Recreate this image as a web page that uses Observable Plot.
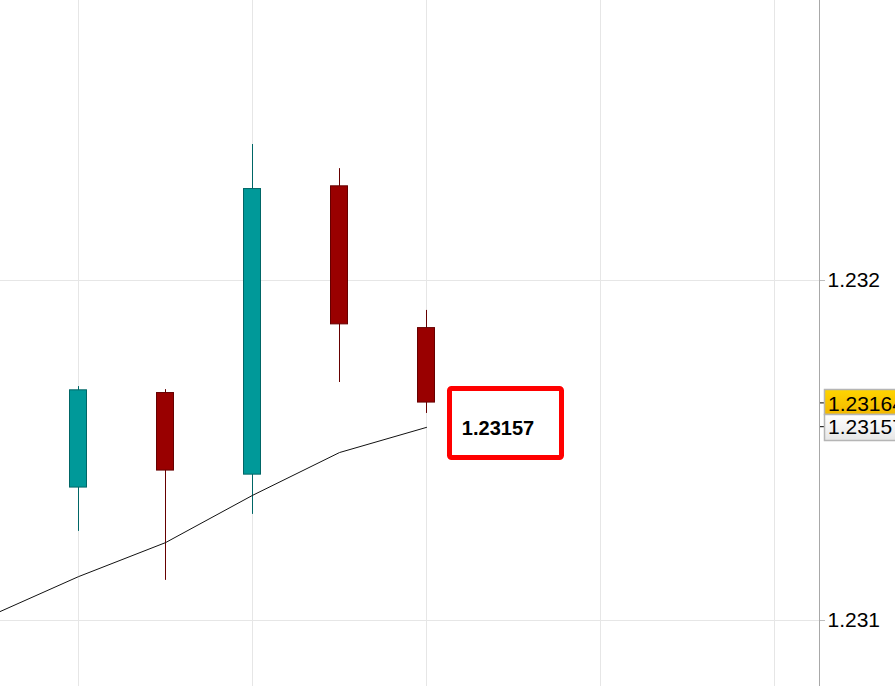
<!DOCTYPE html>
<html><head><meta charset="utf-8">
<script src="https://cdn.jsdelivr.net/npm/d3@7"></script>
<script src="https://cdn.jsdelivr.net/npm/@observablehq/plot@0.6"></script>
<style>html,body{margin:0;padding:0;background:#fff;overflow:hidden}svg{display:block}</style>
</head><body><div id="chart"></div>
<script>
const index = [0, 1, 2, 3, 4];
const highs = [1.231688, 1.231679, 1.232400, 1.232329, 1.231912];
const lows = [1.231262, 1.231118, 1.231312, 1.231700, 1.231609];
const bodyTops = [1.231677, 1.231669, 1.232269, 1.232277, 1.231860];
const bodyBottoms = [1.231391, 1.231441, 1.231429, 1.231871, 1.231641];
const direction = ["up", "down", "up", "down", "down"];
const lineIndex = [-1, 0, 1, 2, 3, 4];
const lineValues = [1.231015, 1.231129, 1.231229, 1.231368, 1.231494, 1.231568];
const yTicks = [1.231, 1.232];
const xGrid = [0, 2, 4, 6, 8];
const lastPrices = [1.23164, 1.23157];
const noteText = "1.23157";

const candles = index.map((i, k) => ({i, high: highs[k], low: lows[k], top: bodyTops[k], bottom: bodyBottoms[k], dir: direction[k]}));
const line = lineIndex.map((i, k) => ({i, v: lineValues[k]}));
const pxX = p => (p - 78) / 87;
const pxY = p => 1.232 - (p - 280) / 340000;
const fillOf = d => d.dir === "up" ? "#009999" : "#990000";
const edgeOf = d => d.dir === "up" ? "#006666" : "#660000";
const font = "Arial, 'Liberation Sans', sans-serif";

const defs = () => {
  const s = d3.create("svg:defs");
  const add = (id, a, b) => {
    const g = s.append("linearGradient").attr("id", id).attr("x1", 0).attr("y1", 0).attr("x2", 0).attr("y2", 1);
    g.append("stop").attr("offset", "0%").attr("stop-color", a);
    g.append("stop").attr("offset", "100%").attr("stop-color", b);
  };
  add("tagGold", "#ffd500", "#f2b800");
  add("tagGray", "#ffffff", "#e6e6e6");
  return s.node();
};

const tags = [
  {v: lastPrices[0], top: pxY(389.5), bottom: pxY(414.5), fill: "url(#tagGold)"},
  {v: lastPrices[1], top: pxY(414.5), bottom: pxY(440.5), fill: "url(#tagGray)"}
];

const chart = Plot.plot({
  width: 895, height: 686,
  marginTop: 0, marginBottom: 0, marginLeft: 0, marginRight: 76,
  style: {fontFamily: font, background: "#fff"},
  x: {type: "linear", domain: [pxX(0), pxX(819)], range: [0, 819], axis: null},
  y: {type: "linear", domain: [pxY(686), pxY(0)], range: [686, 0], axis: null},
  marks: [
    defs,
    Plot.ruleX(xGrid, {stroke: "#e6e6e6", strokeWidth: 1}),
    Plot.ruleY(yTicks, {x1: pxX(0), x2: pxX(819), stroke: "#e6e6e6", strokeWidth: 1}),
    Plot.ruleX(candles, {x: "i", y1: "low", y2: "high", stroke: edgeOf, strokeWidth: 1}),
    Plot.rect(candles, {x1: d => d.i - 8.5 / 87, x2: d => d.i + 8.5 / 87, y1: "bottom", y2: "top", fill: fillOf, stroke: edgeOf, strokeWidth: 1}),
    Plot.line(line, {x: "i", y: "v", stroke: "#111", strokeWidth: 1, clip: true}),
    Plot.ruleX([pxX(819)], {stroke: "#a8a8a8", strokeWidth: 1}),
    Plot.ruleY(lastPrices, {x1: pxX(820), x2: pxX(825), stroke: "#000"}),
    Plot.ruleY(yTicks, {x1: pxX(820), x2: pxX(825), stroke: "#bbbbbb"}),
    Plot.rect(tags, {x1: pxX(824.5), x2: pxX(905), y1: "bottom", y2: "top", fill: "fill", stroke: "#b5b5b5", strokeWidth: 1.5}),
    Plot.text(tags, {x: pxX(827.5), y: "v", text: d => d.v.toFixed(5), textAnchor: "start", fontSize: 21, fill: "#000", dy: 1}),
    Plot.text(yTicks, {x: pxX(827), y: d => d, text: d => d.toFixed(3), textAnchor: "start", fontSize: 21, fill: "#000"}),
    Plot.rect([noteText], {x1: pxX(449.5), x2: pxX(561.5), y1: pxY(457.5), y2: pxY(388.5), fill: "#fff", stroke: "#ff0000", strokeWidth: 5, rx: 2}),
    Plot.text([noteText], {x: pxX(497.5), y: pxY(428), text: d => d, fontSize: 20, fontWeight: "bold", fill: "#000"})
  ]
});
document.getElementById("chart").append(chart);
</script></body></html>
